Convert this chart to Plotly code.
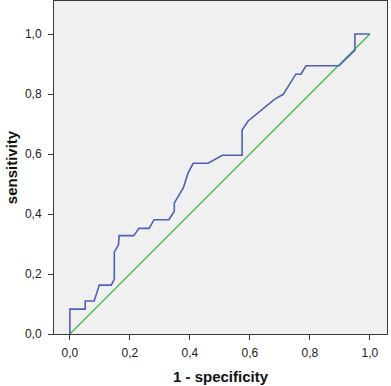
import plotly.graph_objects as go

fpr = [0, 0, 0.051, 0.051, 0.081, 0.098, 0.138, 0.148, 0.148, 0.162, 0.164, 0.213, 0.23, 0.264,
       0.281, 0.33, 0.348, 0.348, 0.378, 0.394, 0.411, 0.461, 0.508, 0.574, 0.574, 0.594, 0.683,
       0.711, 0.753, 0.77, 0.787, 0.897, 0.95, 0.95, 1.0]
tpr = [0, 0.083, 0.083, 0.110, 0.110, 0.163, 0.163, 0.183, 0.273, 0.298, 0.328, 0.328, 0.352, 0.352,
       0.381, 0.381, 0.409, 0.437, 0.487, 0.537, 0.569, 0.569, 0.596, 0.596, 0.68, 0.71, 0.783,
       0.799, 0.866, 0.866, 0.894, 0.894, 0.946, 1.0, 1.0]
ref_x = [0, 1]
ref_y = [0, 1]
tick_vals = [0, 0.2, 0.4, 0.6, 0.8, 1.0]

fig = go.Figure()
fig.add_trace(go.Scatter(x=ref_x, y=ref_y, mode="lines",
                         line=dict(color="#44bb4e", width=1.3), showlegend=False))
fig.add_trace(go.Scatter(x=fpr, y=tpr, mode="lines",
                         line=dict(color="#5060b4", width=1.6), showlegend=False))

axis_common = dict(
    showline=True, linecolor="#3a3a3a", linewidth=1, mirror=True,
    ticks="outside", ticklen=5, tickcolor="#3a3a3a", tickwidth=1,
    showgrid=False, zeroline=False, tickvals=tick_vals, tickformat=".1f",
    tickfont=dict(family="Liberation Sans, Arial", size=12, color="#222"),
    automargin=False,
)

fig.update_layout(
    width=391, height=386,
    margin=dict(l=54, r=4, t=1, b=52),
    paper_bgcolor="white", plot_bgcolor="#f0f0f0",
    separators=", ",
    xaxis=dict(range=[-0.053, 1.057], ticklabelstandoff=3,
               title=dict(text="<b>1 - specificity</b>", standoff=12,
                          font=dict(family="Liberation Sans, Arial", size=15, color="#111")),
               **axis_common),
    yaxis=dict(range=[0, 1.11], ticklabelstandoff=4,
               title=dict(text="<b>sensitivity</b>", standoff=3,
                          font=dict(family="Liberation Sans, Arial", size=15, color="#111")),
               **axis_common),
)

fig.write_html("out.html", config={"displayModeBar": False},
               post_script="document.body.style.margin='0';")
